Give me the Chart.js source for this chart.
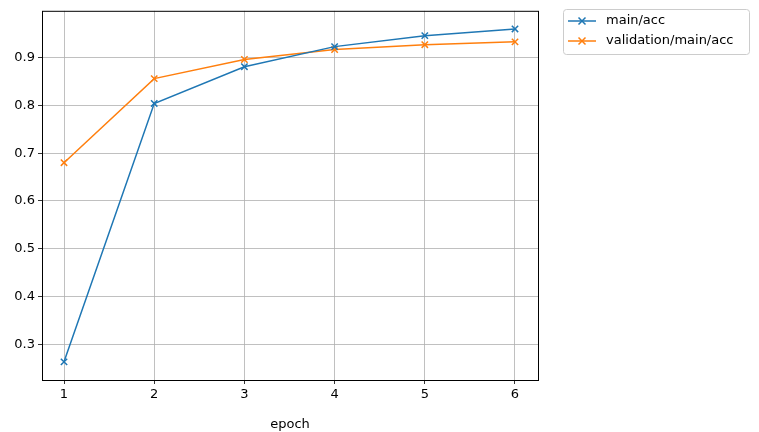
<!DOCTYPE html>
<html><head><script src="https://cdn.jsdelivr.net/npm/chart.js@4"></script>
<style>body{margin:0;background:#fff}#w{width:759px;height:432px}</style></head>
<body><div id="w"><canvas id="c"></canvas></div>
<script>
const epochs=[1,2,3,4,5,6];
const mainAcc=[0.263,0.804,0.881,0.923,0.946,0.960];
const valAcc=[0.680,0.856,0.896,0.917,0.927,0.933];
const xTicks=[1,2,3,4,5,6];
const yTicks=[0.3,0.4,0.5,0.6,0.7,0.8,0.9];
const labels=['main/acc','validation/main/acc'];
const colors=['#1f77b4','#ff7f0e'];
const F='"DejaVu Sans"';
const ds=(d,i)=>({label:labels[i],data:epochs.map((e,k)=>({x:e,y:d[k]})),borderColor:colors[i],backgroundColor:colors[i],pointStyle:'crossRot',pointRadius:4.5,pointBorderWidth:1.5,borderWidth:1.5,tension:0});
const legendPlugin={id:'lg',afterDraw(ch){const c=ch.ctx;c.save();
c.fillStyle='#fff';c.strokeStyle='#cccccc';c.lineWidth=1;
c.beginPath();c.roundRect(563.5,9.5,186,45,3);c.fill();c.stroke();
c.font='13px '+F;c.textBaseline='middle';
labels.forEach((l,i)=>{const y=21+i*20;c.strokeStyle=colors[i];c.lineWidth=1.5;
c.beginPath();c.moveTo(568,y);c.lineTo(596,y);c.stroke();
c.beginPath();c.moveTo(578.5,y-3.5);c.lineTo(585.5,y+3.5);c.moveTo(578.5,y+3.5);c.lineTo(585.5,y-3.5);c.stroke();
c.fillStyle='#000';c.fillText(l,606,y);});
c.strokeStyle='#000';c.lineWidth=1;const a=ch.chartArea;c.strokeRect(a.left+0.5,a.top+0.5,a.right-a.left,a.bottom-a.top);
c.restore();}};
new Chart(document.getElementById('c'),{type:'line',data:{datasets:[ds(mainAcc,0),ds(valAcc,1)]},
options:{responsive:true,maintainAspectRatio:false,animation:false,
layout:{padding:{top:8,right:221,left:0,bottom:0}},
plugins:{legend:{display:false},tooltip:{enabled:false}},
scales:{
x:{type:'linear',min:0.756,max:6.255,afterBuildTicks:s=>{s.ticks=xTicks.map(v=>({value:v}))},
afterFit:s=>{s.height=52},
grid:{color:'#b0b0b0',lineWidth:0.8,drawTicks:true,tickLength:4,tickColor:'#000'},border:{display:false},
ticks:{color:'#000',font:{family:F,size:13},padding:3,maxRotation:0},
title:{display:true,text:'epoch',color:'#000',font:{family:F,size:13},padding:{top:0,bottom:0}}},
y:{min:0.225,max:0.998,afterBuildTicks:s=>{s.ticks=yTicks.map(v=>({value:v}))},
afterFit:s=>{s.width=42},
grid:{color:'#b0b0b0',lineWidth:0.8,drawTicks:true,tickLength:4,tickColor:'#000'},border:{display:false},
ticks:{color:'#000',font:{family:F,size:13},padding:3,callback:v=>v.toFixed(1)}}}},
plugins:[legendPlugin]});
</script></body></html>
